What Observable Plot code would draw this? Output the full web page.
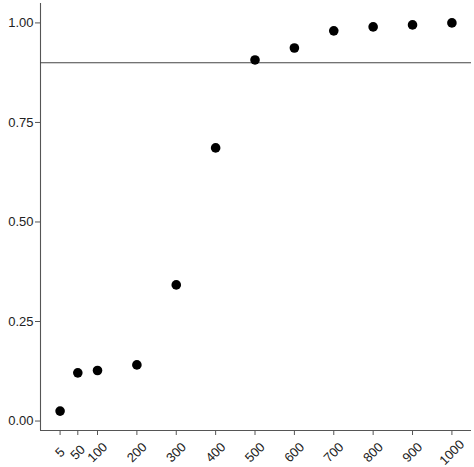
<!DOCTYPE html>
<html><head><meta charset="utf-8">
<script src="https://cdn.jsdelivr.net/npm/d3@7"></script>
<script src="https://cdn.jsdelivr.net/npm/@observablehq/plot@0.6"></script>
<style>body{margin:0;background:#fff}</style>
</head><body><div id="chart"></div>
<script>
const sizes = [5, 50, 100, 200, 300, 400, 500, 600, 700, 800, 900, 1000];
const power = [0.025, 0.121, 0.127, 0.141, 0.342, 0.686, 0.907, 0.937, 0.980, 0.990, 0.995, 1.000];
const xTicks = [5, 50, 100, 200, 300, 400, 500, 600, 700, 800, 900, 1000];
const yTicks = [0, 0.25, 0.5, 0.75, 1];
const threshold = 0.9;

const data = sizes.map((s, i) => ({size: s, power: power[i]}));
const xDom = [-44.75, 1049.75];
const yDom = [-0.02375, 1.04875];

const chart = Plot.plot({
  width: 474, height: 467,
  marginLeft: 40, marginTop: 3, marginBottom: 37, marginRight: 3,
  style: {fontFamily: "'Liberation Sans', Arial, sans-serif", fontSize: "13px", color: "#222", background: "#fff"},
  x: {domain: xDom},
  y: {domain: yDom},
  marks: [
    Plot.axisY({ticks: yTicks, tickFormat: d => d.toFixed(2), tickSize: 5, tickPadding: 2, label: null, stroke: "#555"}),
    Plot.axisX({ticks: xTicks, tickFormat: () => "", tickSize: 5, label: null, stroke: "#555"}),
    Plot.text(xTicks, {x: d => d, frameAnchor: "bottom", dy: 22, rotate: -45, textAnchor: "middle", lineAnchor: "middle", text: d => String(d), fill: "#222"}),
    Plot.ruleX([xDom[0]], {stroke: "#555", strokeWidth: 1.1}),
    Plot.ruleY([yDom[0]], {stroke: "#555", strokeWidth: 1.1}),
    Plot.ruleY([threshold], {stroke: "#444", strokeWidth: 1.1}),
    Plot.dot(data, {x: "size", y: "power", r: 4.8, fill: "#000", stroke: "none"})
  ]
});
document.getElementById("chart").appendChild(chart);
</script>
</body></html>
